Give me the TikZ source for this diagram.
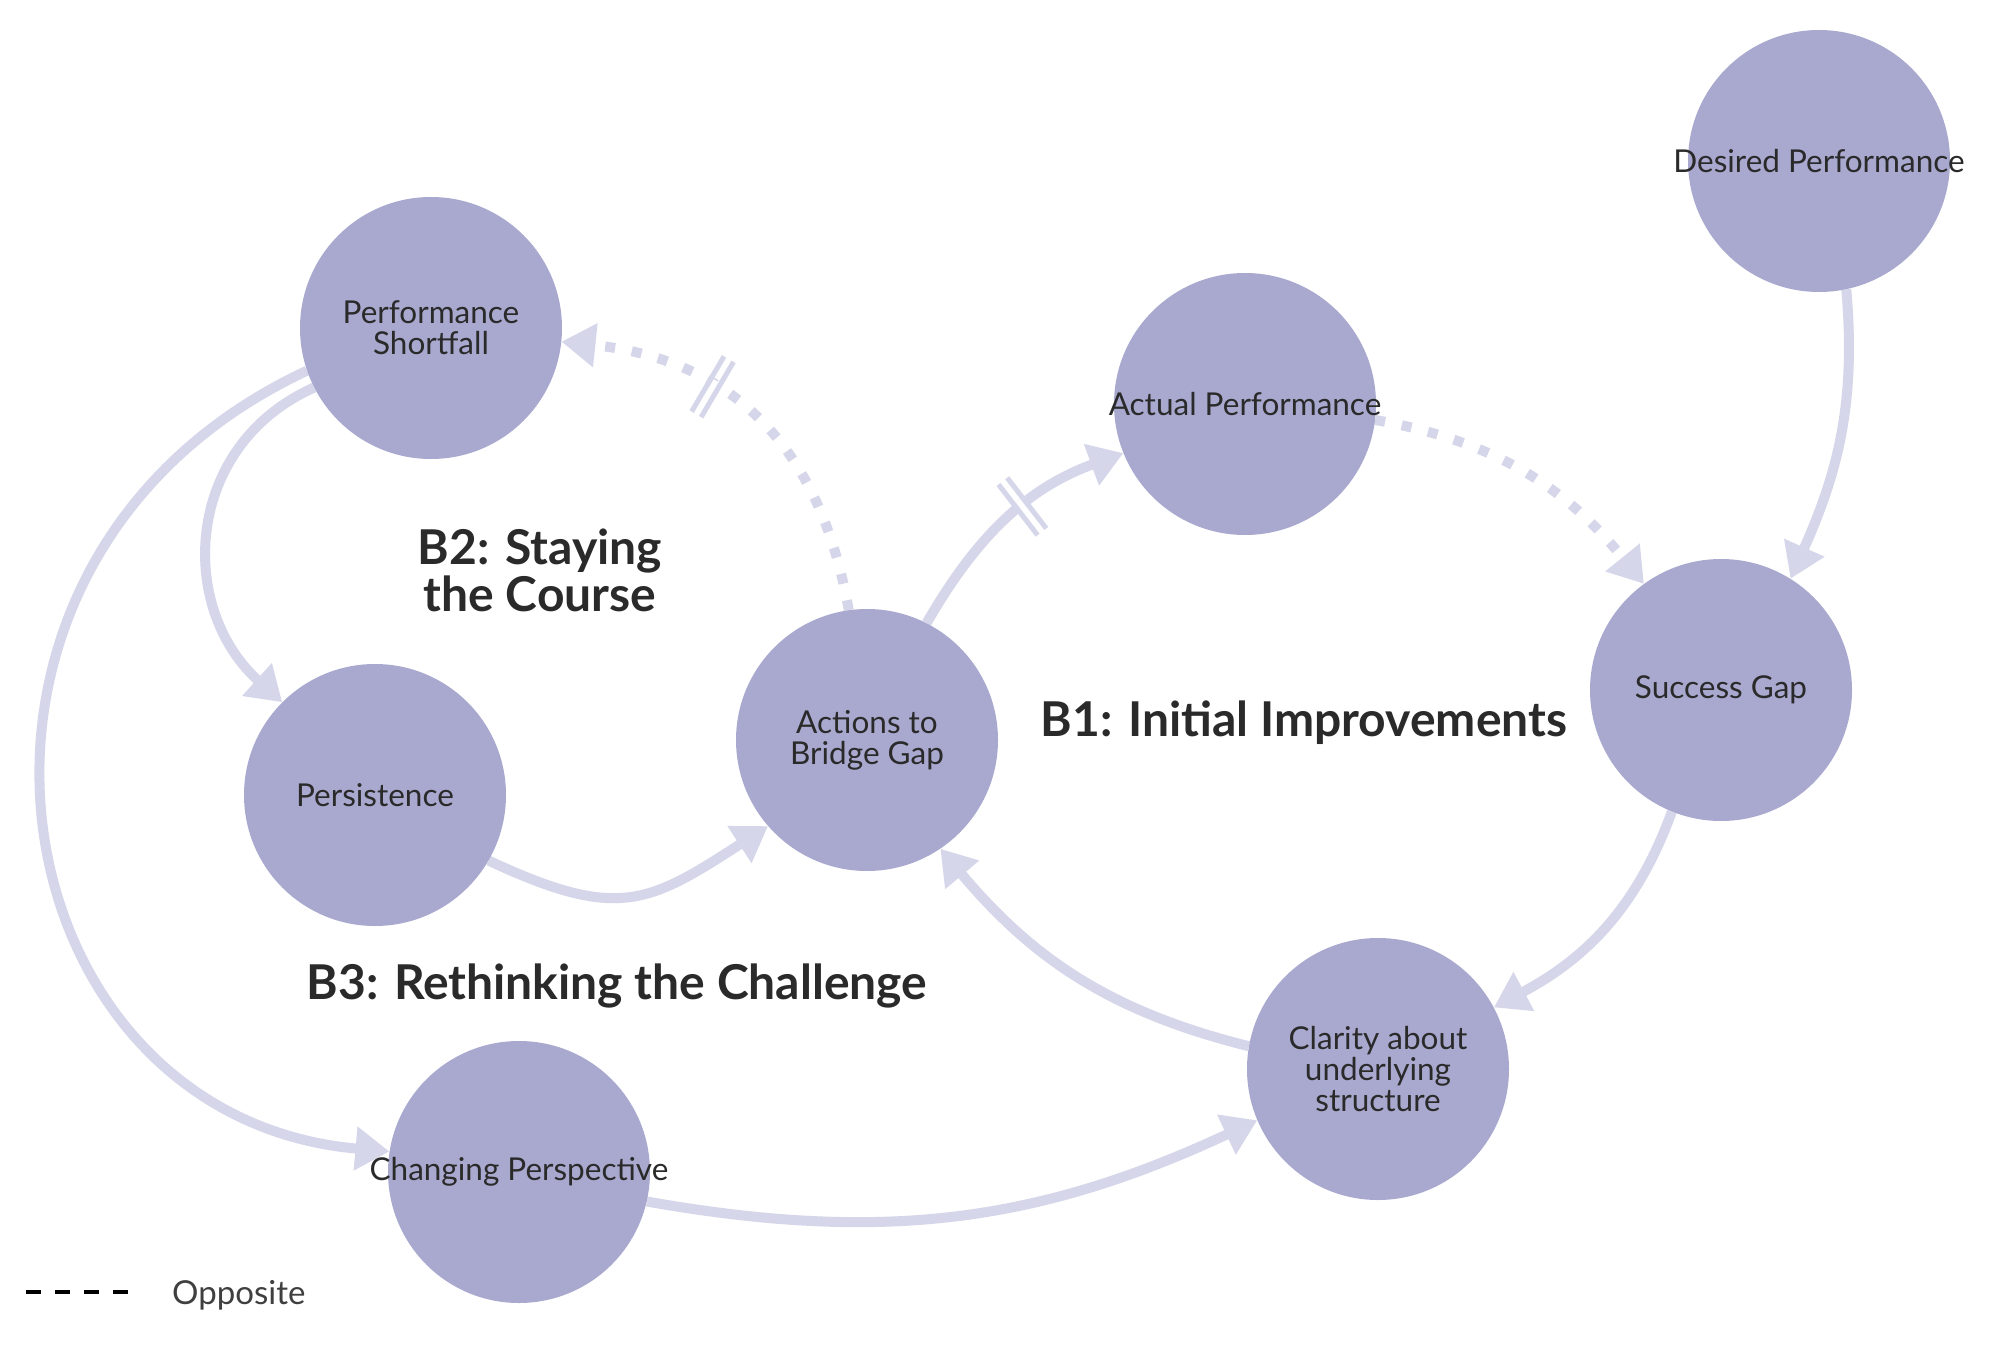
\documentclass[tikz,border=0pt]{standalone}
\usepackage{fontspec}
\setmainfont{Lato}
\usetikzlibrary{arrows.meta,decorations.markings}
\definecolor{circ}{HTML}{A9A9D0}
\definecolor{arr}{HTML}{D5D6E9}
\definecolor{txt}{HTML}{2A2A2A}
\pgfdeclarelayer{bg}
\pgfsetlayers{bg,main}
\begin{document}
\begin{tikzpicture}[x=1pt,y=1pt,
  var/.style={circle,fill=circ,minimum size=262pt,inner sep=0pt},
  lbl/.style={align=center,font=\fontsize{31.5}{31}\selectfont,text=txt,inner sep=0pt},
  link/.style={draw=arr,line width=10pt,-{Triangle[length=34pt,width=42pt]}},
  dots/.style={link,dash pattern=on 10pt off 17pt},
  bars/.style={postaction={decorate,decoration={markings,mark=at position #1 with {
      \fill[white] (-3pt,-7pt) rectangle (3pt,7pt);
      \draw[arr,line width=5pt,solid,arrows=-] (-5.5pt,-32pt) -- (-5.5pt,32pt) (5.5pt,-32pt) -- (5.5pt,32pt);}}}},
  heading/.style={font=\fontsize{48}{47}\selectfont\bfseries,text=txt,align=center}
]
\useasboundingbox (0,0) rectangle (2000,-1356);

\node[var,label={[lbl]center:Desired Performance}] (dp) at (1819,-161) {};
\node[var,label={[lbl]center:Performance\\Shortfall}] (ps) at (431,-328) {};
\node[var,label={[lbl]center:Actual Performance}] (ap) at (1245,-404) {};
\node[var,label={[lbl]center:Success Gap}] (sg) at (1721,-690) {};
\node[var,label={[lbl]center:Actions to\\Bridge Gap}] (ab) at (867,-740) {};
\node[var,label={[lbl]center:Persistence}] (pe) at (375,-795) {};
\node[var,label={[lbl]center:Clarity about\\underlying\\structure}] (cl) at (1378,-1069) {};
\node[var,label={[lbl]center:Changing Perspective}] (cp) at (519,-1172) {};

\begin{pgfonlayer}{bg}
\fill[white] (0,0) rectangle (2000,-1356);
\draw[link] (dp.-78) to[out=-85,in=66] (sg.58);
\draw[dots] (ap.-7) to[out=-10,in=129] (sg.126);
\draw[link,bars=0.57] (ab.63) to[out=60,in=200] (ap.202);
\draw[dots,bars=0.63] (ab.98) to[out=100,in=-6,looseness=1.1] (ps.-6);
\draw[link] (ps.207) to[out=204,in=138,looseness=1.15] (pe.135);
\draw[link] (ps.199) to[out=205,in=175,out distance=450pt,in distance=400pt] (cp.171);
\draw[link] (pe.-30) to[out=-25,in=213,looseness=1.3] (ab.221);
\draw[link] (sg.248) to[out=250,in=28] (cl.28);
\draw[link] (cl.170) to[out=166,in=-50] (ab.-56);
\draw[link] (cp.-13) to[out=-10,in=205] (cl.203);
\end{pgfonlayer}

\node[heading] (b2) at (540,-570) {B2: Staying\\the Course};
\node[heading] (b1) at (1304,-723) {B1: Initial Improvements};
\node[heading] (b3) at (617,-986) {B3: Rethinking the Challenge};

\coordinate (l1) at (26,-1292);
\coordinate (l2) at (128,-1292);
\draw[black,line width=4pt,dash pattern=on 15pt off 14pt] (l1) -- (l2);
\node[anchor=base west,font=\fontsize{33}{31}\selectfont,text=txt!90,inner sep=0pt] (opp) at (172,-1304) {Opposite};
\end{tikzpicture}
\end{document}
